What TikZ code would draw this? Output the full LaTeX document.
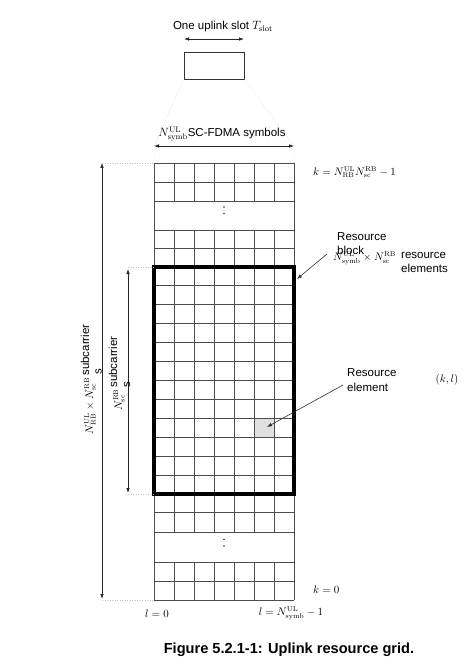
\documentclass[tikz,border=0pt]{standalone}
\usepackage[no-math]{fontspec}
\setmainfont{Liberation Sans}
\usetikzlibrary{arrows.meta}
\begin{document}
\begin{tikzpicture}[x=1pt,y=-1pt,
 gridline/.style={draw=black!70, line width=0.9pt},
 thickbox/.style={draw=black, line width=3.5pt},
 dim/.style={{Latex[length=5pt,width=3.6pt]}-{Latex[length=5pt,width=3.6pt]}, line width=0.8pt, draw=black!85},
 pointer/.style={-{Latex[length=5pt,width=3.6pt]}, line width=0.6pt, draw=black!80},
 guide/.style={draw=black!25, line width=0.5pt, dotted},
 lbl/.style={font=\fontsize{11.5}{13.5}\selectfont, inner sep=0pt, align=left},
 mth/.style={font=\fontsize{10.5}{12}\selectfont, inner sep=0pt},
 captiontext/.style={font=\fontsize{14.6}{16}\selectfont\bfseries, inner sep=0pt},
 dotmark/.style={fill=black!80, draw=none},
]
\useasboundingbox (0,0) rectangle (474,671);

% ---- top slot box ----
\node[lbl, anchor=center] (slotlbl) at (223,27) {One uplink slot $T_{\mathrm{slot}}$};
\coordinate (slotL) at (184,39);
\coordinate (slotR) at (244,39);
\draw[dim] (slotL) -- (slotR);
\draw[draw=black!80, line width=0.8pt] (184,52) rectangle (244,79);
\coordinate (sbl) at (184,79);
\coordinate (sbr) at (244,79);

% guides from slot box to grid
\draw[guide] (sbl) -- (154,146) -- (154,163);
\draw[guide] (sbr) -- (294,146) -- (294,163);

% ---- symbols label ----
\node[lbl, anchor=center] (symlbl) at (222,134) {$N^{\mathrm{UL}}_{\mathrm{symb}}$SC-FDMA symbols};
\coordinate (symL) at (154,146);
\coordinate (symR) at (294,146);
\draw[dim] (symL) -- (symR);

% ---- grid ----
\fill[black!12] (254,418.3) rectangle (274,437.2);
% horizontal lines
\foreach \yy in {163,182,201,230,248.5,512.5,532,562,581,600}
  \draw[gridline] (154,\yy) -- (294,\yy);
\foreach \i in {1,...,11}
  \draw[gridline] (154,{267+\i*18.917}) -- (294,{267+\i*18.917});
% vertical lines
\foreach \xx in {174,194,214,234,254,274} {
  \draw[gridline] (\xx,163) -- (\xx,201);
  \draw[gridline] (\xx,230) -- (\xx,532);
  \draw[gridline] (\xx,562) -- (\xx,600);
}
\draw[gridline] (154,163) -- (154,600);
\draw[gridline] (294,163) -- (294,600);
% dots
\fill[dotmark] (224,207) circle (0.9);
\fill[dotmark] (224,213.5) circle (0.9);
\fill[dotmark] (224,539.5) circle (0.9);
\fill[dotmark] (224,546) circle (0.9);
% resource block
\draw[thickbox] (154,267) rectangle (294,494);

% ---- left dimension arrows ----
\draw[guide] (102,163) -- (154,163);
\draw[guide] (102,600) -- (154,600);
\draw[guide] (128,267) -- (154,267);
\draw[guide] (128,494) -- (154,494);
\coordinate (bigT) at (102,163);
\coordinate (bigB) at (102,599);
\draw[dim] (bigT) -- (bigB);
\coordinate (smT) at (128,269);
\coordinate (smB) at (128,493);
\draw[dim] (smT) -- (smB);

\node[mth, rotate=90] (bigf) at (90,406) {$N^{\mathrm{UL}}_{\mathrm{RB}}\times N^{\mathrm{RB}}_{\mathrm{sc}}$};
\node[lbl, rotate=90] (bigs1) at (85,350) {subcarrier};
\node[lbl, rotate=90] (bigs2) at (98.5,372) {s};
\node[mth, rotate=90] (smf) at (119,400) {$N^{\mathrm{RB}}_{\mathrm{sc}}$};
\node[lbl, rotate=90] (sms1) at (113,362) {subcarrier};
\node[lbl, rotate=90] (sms2) at (127,385) {s};

% ---- right labels ----
\node[mth, anchor=west] (ktop) at (313,172) {$k = N^{\mathrm{UL}}_{\mathrm{RB}} N^{\mathrm{RB}}_{\mathrm{sc}} - 1$};

\node[lbl, anchor=west] (rb1) at (337,237) {Resource};
\node[lbl, anchor=west] (rb2) at (337,250) {block};
\node[mth, anchor=west] (rbf) at (333,258) {$N^{\mathrm{UL}}_{\mathrm{symb}}\times N^{\mathrm{RB}}_{\mathrm{sc}}$};
\node[lbl, anchor=west] (rbe1) at (401,255) {resource};
\node[lbl, anchor=west] (rbe2) at (401,268) {elements};
\coordinate (rbtail) at (327,254);
\coordinate (rbhead) at (297,279);
\draw[pointer] (rbtail) -- (rbhead);

\node[lbl, anchor=west] (re1) at (347,373) {Resource};
\node[lbl, anchor=west] (re2) at (347,387) {element};
\coordinate (retail) at (343,385);
\coordinate (rehead) at (267,427);
\draw[pointer] (retail) -- (rehead);

\node[mth] (kl) at (447,380) {$(k,l)$};

\node[mth, anchor=west] (kzero) at (313,590) {$k=0$};
\node[mth] (lzero) at (157,614) {$l=0$};
\node[mth] (lmax) at (291,613) {$l=N^{\mathrm{UL}}_{\mathrm{symb}}-1$};

\node[captiontext] (caption) at (289,650) {Figure 5.2.1-1: Uplink resource grid.};
\end{tikzpicture}
\end{document}
